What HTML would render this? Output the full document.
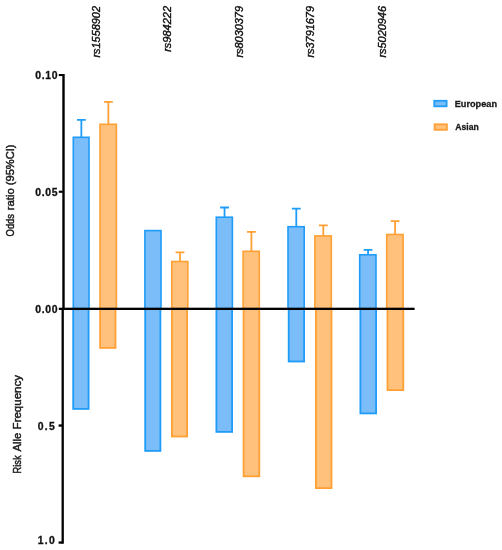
<!DOCTYPE html>
<html lang="en">
<head>
<meta charset="utf-8">
<title>Odds ratio and risk allele frequency</title>
<style>
html,body{margin:0;padding:0;background:#fff;}
body{width:502px;height:550px;overflow:hidden;}
svg{display:block;font-family:"Liberation Sans",sans-serif;}
</style>
</head>
<body>
<svg width="502" height="550" viewBox="0 0 502 550">
<rect width="502" height="550" fill="#fff"/>
<!-- column labels -->
<g fill="#111" stroke="#111" stroke-width="0.4">
<text transform="translate(100.0 57.6) rotate(-90)" textLength="51.6" lengthAdjust="spacingAndGlyphs" font-style="italic" font-size="10.2">rs1558902</text>
<text transform="translate(170.5 51.8) rotate(-90)" textLength="45.8" lengthAdjust="spacingAndGlyphs" font-style="italic" font-size="10.2">rs984222</text>
<text transform="translate(242.5 57.6) rotate(-90)" textLength="51.6" lengthAdjust="spacingAndGlyphs" font-style="italic" font-size="10.2">rs8030379</text>
<text transform="translate(314.2 57.6) rotate(-90)" textLength="51.6" lengthAdjust="spacingAndGlyphs" font-style="italic" font-size="10.2">rs3791679</text>
<text transform="translate(386.0 57.6) rotate(-90)" textLength="51.6" lengthAdjust="spacingAndGlyphs" font-style="italic" font-size="10.2">rs5020946</text>
</g>
<!-- bars -->
<path d="M81.35 137.00V119.80M76.95 119.80H85.75" stroke="#1f9cf8" stroke-width="1.8" fill="none"/>
<rect x="73.30" y="137.30" width="15.70" height="171.70" fill="#7bbdf8" stroke="#1f9cf8" stroke-width="1.6"/>
<path d="M108.40 124.00V101.90M104.00 101.90H112.80" stroke="#ffa034" stroke-width="1.8" fill="none"/>
<rect x="100.00" y="124.30" width="16.40" height="184.70" fill="#ffc17c" stroke="#ffa034" stroke-width="1.6"/>
<rect x="144.90" y="230.60" width="16.10" height="78.40" fill="#7bbdf8" stroke="#1f9cf8" stroke-width="1.6"/>
<path d="M180.00 261.20V252.30M175.60 252.30H184.40" stroke="#ffa034" stroke-width="1.8" fill="none"/>
<rect x="171.80" y="261.50" width="16.00" height="47.50" fill="#ffc17c" stroke="#ffa034" stroke-width="1.6"/>
<path d="M224.55 216.90V207.50M220.15 207.50H228.95" stroke="#1f9cf8" stroke-width="1.8" fill="none"/>
<rect x="216.30" y="217.20" width="16.10" height="91.80" fill="#7bbdf8" stroke="#1f9cf8" stroke-width="1.6"/>
<path d="M251.40 251.00V231.90M247.00 231.90H255.80" stroke="#ffa034" stroke-width="1.8" fill="none"/>
<rect x="243.10" y="251.30" width="16.20" height="57.70" fill="#ffc17c" stroke="#ffa034" stroke-width="1.6"/>
<path d="M296.30 226.40V208.60M291.90 208.60H300.70" stroke="#1f9cf8" stroke-width="1.8" fill="none"/>
<rect x="288.00" y="226.70" width="16.20" height="82.30" fill="#7bbdf8" stroke="#1f9cf8" stroke-width="1.6"/>
<path d="M323.30 235.60V225.40M318.90 225.40H327.70" stroke="#ffa034" stroke-width="1.8" fill="none"/>
<rect x="314.90" y="235.90" width="16.40" height="73.10" fill="#ffc17c" stroke="#ffa034" stroke-width="1.6"/>
<path d="M368.05 254.50V249.80M363.65 249.80H372.45" stroke="#1f9cf8" stroke-width="1.8" fill="none"/>
<rect x="359.70" y="254.80" width="16.30" height="54.20" fill="#7bbdf8" stroke="#1f9cf8" stroke-width="1.6"/>
<path d="M395.10 234.20V221.10M390.70 221.10H399.50" stroke="#ffa034" stroke-width="1.8" fill="none"/>
<rect x="386.70" y="234.50" width="16.40" height="74.50" fill="#ffc17c" stroke="#ffa034" stroke-width="1.6"/>
<rect x="73.20" y="308.70" width="15.40" height="100.20" fill="#7bbdf8" stroke="#1f9cf8" stroke-width="1.8"/>
<rect x="100.10" y="308.70" width="15.40" height="39.20" fill="#ffc17c" stroke="#ffa034" stroke-width="1.8"/>
<rect x="145.20" y="308.70" width="15.20" height="142.20" fill="#7bbdf8" stroke="#1f9cf8" stroke-width="1.8"/>
<rect x="171.90" y="308.70" width="15.20" height="127.80" fill="#ffc17c" stroke="#ffa034" stroke-width="1.8"/>
<rect x="216.40" y="308.70" width="15.70" height="123.20" fill="#7bbdf8" stroke="#1f9cf8" stroke-width="1.8"/>
<rect x="243.60" y="308.70" width="15.70" height="167.60" fill="#ffc17c" stroke="#ffa034" stroke-width="1.8"/>
<rect x="288.70" y="308.70" width="15.40" height="52.80" fill="#7bbdf8" stroke="#1f9cf8" stroke-width="1.8"/>
<rect x="315.90" y="308.70" width="15.60" height="179.40" fill="#ffc17c" stroke="#ffa034" stroke-width="1.8"/>
<rect x="360.40" y="308.70" width="15.70" height="104.70" fill="#7bbdf8" stroke="#1f9cf8" stroke-width="1.8"/>
<rect x="387.50" y="308.70" width="15.80" height="81.40" fill="#ffc17c" stroke="#ffa034" stroke-width="1.8"/>
<!-- axes -->
<g fill="#000">
<rect x="62.3" y="74" width="2.4" height="235"/>
<rect x="61.55" y="308.9" width="2.3" height="234.8"/>
<rect x="58.8" y="307.7" width="355.8" height="2.3"/>
<rect x="58.8" y="74" width="4" height="2.1"/>
<rect x="58.8" y="190.7" width="4" height="2.1"/>
<rect x="58.6" y="424.4" width="4" height="2.3"/>
<rect x="58.6" y="541.4" width="4" height="2.3"/>
</g>
<!-- tick labels -->
<g font-weight="bold" font-size="10.4" fill="#111" stroke="#111" stroke-width="0.3" text-anchor="end">
<text x="58.2" y="79.1" letter-spacing="0.65">0.10</text>
<text x="58.2" y="196.1" letter-spacing="0.65">0.05</text>
<text x="58.2" y="312.8" letter-spacing="0.65">0.00</text>
<text x="56.3" y="429.9" letter-spacing="1.4">0.5</text>
<text x="56.3" y="544.2" letter-spacing="1.4">1.0</text>
</g>
<!-- axis titles -->
<g fill="#1a1a1a" stroke="#1a1a1a" stroke-width="0.45">
<g font-size="10">
<text transform="translate(14.2 236.4) rotate(-90)" textLength="22.4" lengthAdjust="spacingAndGlyphs">Odds</text>
<text transform="translate(14.2 210.3) rotate(-90)" textLength="22" lengthAdjust="spacingAndGlyphs">ratio</text>
<text transform="translate(14.2 185.2) rotate(-90)" textLength="40.6" lengthAdjust="spacingAndGlyphs">(95%CI)</text>
</g>
<g font-size="10.6">
<text transform="translate(20.5 473.4) rotate(-90)" textLength="18" lengthAdjust="spacingAndGlyphs">Risk</text>
<text transform="translate(20.5 451.6) rotate(-90)" textLength="18.8" lengthAdjust="spacingAndGlyphs">Alle</text>
<text transform="translate(20.5 429.4) rotate(-90)" textLength="54.4" lengthAdjust="spacingAndGlyphs">Frequency</text>
</g>
</g>
<!-- legend -->
<rect x="434.3" y="100.8" width="12.3" height="5.5" fill="#7bbdf8" stroke="#1f9cf8" stroke-width="1.8"/>
<rect x="434.6" y="124.3" width="12.3" height="5.5" fill="#ffc17c" stroke="#ffa034" stroke-width="1.8"/>
<g font-weight="bold" font-size="9.2" fill="#1a1a1a" stroke="#1a1a1a" stroke-width="0.3">
<text x="454.7" y="106.6" textLength="42.3" lengthAdjust="spacingAndGlyphs">European</text>
<text x="455.3" y="130.0" textLength="23.5" lengthAdjust="spacingAndGlyphs">Asian</text>
</g>
</svg>
</body>
</html>
